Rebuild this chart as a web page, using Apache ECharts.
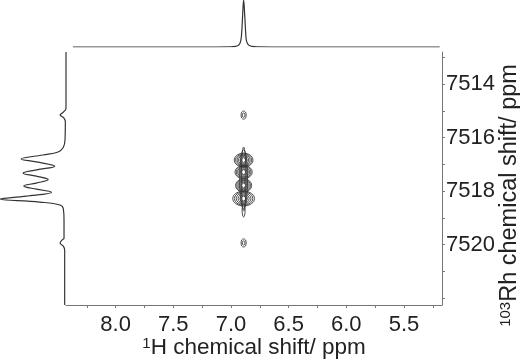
<!DOCTYPE html>
<html>
<head>
<meta charset="utf-8">
<script src="https://cdn.jsdelivr.net/npm/echarts@6/dist/echarts.min.js"></script>
<style>
  html, body { margin: 0; padding: 0; background: #fff; }
  #chart { width: 520px; height: 360px; }
</style>
</head>
<body>
<div id="chart"></div>
<script>
// axes (ppm)
const hMin = 5.17, hMax = 8.43;
const rhMin = 7512.8, rhMax = 7522.26;
const hTicks = [5.25, 5.5, 5.75, 6.0, 6.25, 6.5, 6.75, 7.0, 7.25, 7.5, 7.75, 8.0, 8.25];
const hLabels = [5.5, 6.0, 6.5, 7.0, 7.5, 8.0];
const rhTicks = [7513, 7514, 7515, 7516, 7517, 7518, 7519, 7520, 7521, 7522];
const rhLabels = [7514, 7516, 7518, 7520];

// 1H projection (top)
const topPpm = [8.37, 7.27, 7.01, 6.959, 6.933, 6.916, 6.907, 6.898, 6.89, 6.881, 6.872, 6.864, 6.846, 6.82, 6.768, 6.49, 5.19];
const topInt = [0, 0, 0.005, 0.015, 0.04, 0.12, 0.3, 0.7, 1.0, 0.7, 0.3, 0.12, 0.04, 0.015, 0.005, 0, 0];

// 103Rh projection (left)
const leftRh = [7512.8, 7514.9, 7515.05, 7515.16, 7515.27, 7515.42, 7516.09, 7516.36, 7516.54, 7516.65, 7516.8,
  7516.91, 7517.07, 7517.21, 7517.33, 7517.44, 7517.57, 7517.7, 7517.81, 7517.93, 7518.04, 7518.19, 7518.3,
  7518.41, 7518.52, 7518.67, 7519.08, 7519.76, 7519.83, 7519.94, 7520.06, 7520.21, 7522.26];
const leftInt = [0, 0, 0.04, 0.09, 0.03, 0.01, 0.015, 0.04, 0.12, 0.35, 0.68,
  0.45, 0.17, 0.45, 0.65, 0.45, 0.27, 0.45, 0.64, 0.45, 0.22, 0.6, 1.0,
  0.4, 0.09, 0.04, 0.03, 0.03, 0.06, 0.09, 0.04, 0.02, 0.02];

// contour rings: centre (1H, 103Rh) and half widths (ppm)
const ringH = [6.89, 6.89, 6.89, 6.89, 6.89, 6.89,
  6.89, 6.89, 6.89, 6.89, 6.89, 6.89,
  6.89, 6.89, 6.89, 6.89, 6.89, 6.89,
  6.89, 6.89, 6.89, 6.89, 6.89, 6.89,
  6.89, 6.89, 6.89,
  6.89, 6.89, 6.89, 6.89];
const ringRh = [7516.84, 7516.84, 7516.84, 7516.84, 7516.84, 7516.84,
  7517.29, 7517.29, 7517.29, 7517.29, 7517.29, 7517.29,
  7517.79, 7517.79, 7517.79, 7517.79, 7517.79, 7517.79,
  7518.28, 7518.28, 7518.28, 7518.28, 7518.28, 7518.28,
  7517.55, 7517.55, 7518.72,
  7515.16, 7515.16, 7519.94, 7519.94];
const ringHalfH = [0.082, 0.07, 0.057, 0.044, 0.031, 0.017,
  0.075, 0.064, 0.052, 0.04, 0.029, 0.017,
  0.07, 0.06, 0.049, 0.038, 0.027, 0.016,
  0.095, 0.08, 0.064, 0.048, 0.033, 0.019,
  0.034, 0.02, 0.013,
  0.022, 0.012, 0.022, 0.012];
const ringHalfRh = [0.26, 0.23, 0.2, 0.17, 0.13, 0.09,
  0.25, 0.22, 0.19, 0.16, 0.12, 0.09,
  0.25, 0.22, 0.19, 0.16, 0.12, 0.09,
  0.28, 0.25, 0.21, 0.17, 0.13, 0.09,
  1.1, 1.2, 0.25,
  0.15, 0.08, 0.15, 0.08];

const font = 'Liberation Sans, Arial, sans-serif';
const chart = echarts.init(document.getElementById('chart'));

const contourData = ringH.map(function (h, i) {
  return [h, ringRh[i], ringHalfH[i], ringHalfRh[i]];
});

chart.setOption({
  animation: false,
  grid: [
    { left: 66, right: 78, top: 52, bottom: 55, outerBoundsMode: 'none' },
    { left: 66, right: 78, top: 0, height: 47, outerBoundsMode: 'none' },
    { left: 0, width: 66, top: 52, bottom: 55, outerBoundsMode: 'none' }
  ],
  xAxis: [
    {
      gridIndex: 0, type: 'value', inverse: true, min: hMin, max: hMax,
      axisLine: { show: true, lineStyle: { color: '#777', width: 1 } },
      axisTick: { show: true, length: 3, inside: false, customValues: hTicks, lineStyle: { color: '#777' } },
      axisLabel: {
        customValues: hLabels, margin: 9, color: '#222', fontSize: 22, fontFamily: font,
        formatter: function (v) { return v.toFixed(1); }
      },
      splitLine: { show: false },
      name: '{s|1}H chemical shift/ ppm', nameLocation: 'middle', nameGap: 31, nameMoveOverlap: false,
      nameTextStyle: {
        color: '#222', fontSize: 22.5, fontFamily: font,
        rich: { s: { fontSize: 15, verticalAlign: 'top', color: '#222', fontFamily: font } }
      }
    },
    { gridIndex: 1, type: 'value', inverse: true, min: hMin, max: hMax, show: false },
    { gridIndex: 2, type: 'value', inverse: true, min: 0, max: 1, show: false }
  ],
  yAxis: [
    {
      gridIndex: 0, type: 'value', position: 'right', inverse: true, min: rhMin, max: rhMax,
      axisLine: { show: true, lineStyle: { color: '#777', width: 1 } },
      axisTick: { show: true, length: 3, customValues: rhTicks, lineStyle: { color: '#777' } },
      axisLabel: {
        customValues: rhLabels, margin: 4, color: '#222', fontSize: 22, fontFamily: font,
        formatter: function (v) { return String(v); }
      },
      splitLine: { show: false },
      name: '{s|103}Rh chemical shift/ ppm', nameLocation: 'middle', nameRotate: 90, nameGap: 56,
      nameMoveOverlap: false,
      nameTextStyle: {
        color: '#222', fontSize: 23.5, fontFamily: font, padding: [0, 34, 0, 0],
        rich: { s: { fontSize: 15, verticalAlign: 'top', color: '#222', fontFamily: font } }
      }
    },
    { gridIndex: 1, type: 'value', min: 0, max: 1, show: false },
    { gridIndex: 2, type: 'value', inverse: true, min: rhMin, max: rhMax, show: false }
  ],
  series: [
    {
      type: 'line', xAxisIndex: 1, yAxisIndex: 1, showSymbol: false, smooth: 0.4,
      lineStyle: { color: '#333', width: 1.2 },
      data: topPpm.map(function (p, i) { return [p, topInt[i]]; })
    },
    {
      type: 'line', xAxisIndex: 2, yAxisIndex: 2, showSymbol: false, smooth: 0.4,
      lineStyle: { color: '#333', width: 1.2 },
      data: leftRh.map(function (r, i) { return [leftInt[i], r]; })
    },
    {
      type: 'custom', xAxisIndex: 0, yAxisIndex: 0,
      encode: { x: 0, y: 1 },
      data: contourData,
      renderItem: function (params, api) {
        const c = api.coord([api.value(0), api.value(1)]);
        const s = api.size([api.value(2), api.value(3)]);
        const rx = Math.abs(s[0]), ry = Math.abs(s[1]);
        const x0 = c[0] - rx, x1 = c[0] + rx, y = c[1];
        return {
          type: 'path',
          shape: {
            pathData: 'M' + x0 + ' ' + y + ' A' + rx + ' ' + ry + ' 0 1 0 ' + x1 + ' ' + y +
              ' A' + rx + ' ' + ry + ' 0 1 0 ' + x0 + ' ' + y + ' Z'
          },
          style: { fill: 'none', stroke: '#333', lineWidth: 0.85 }
        };
      }
    }
  ]
});
</script>
</body>
</html>
